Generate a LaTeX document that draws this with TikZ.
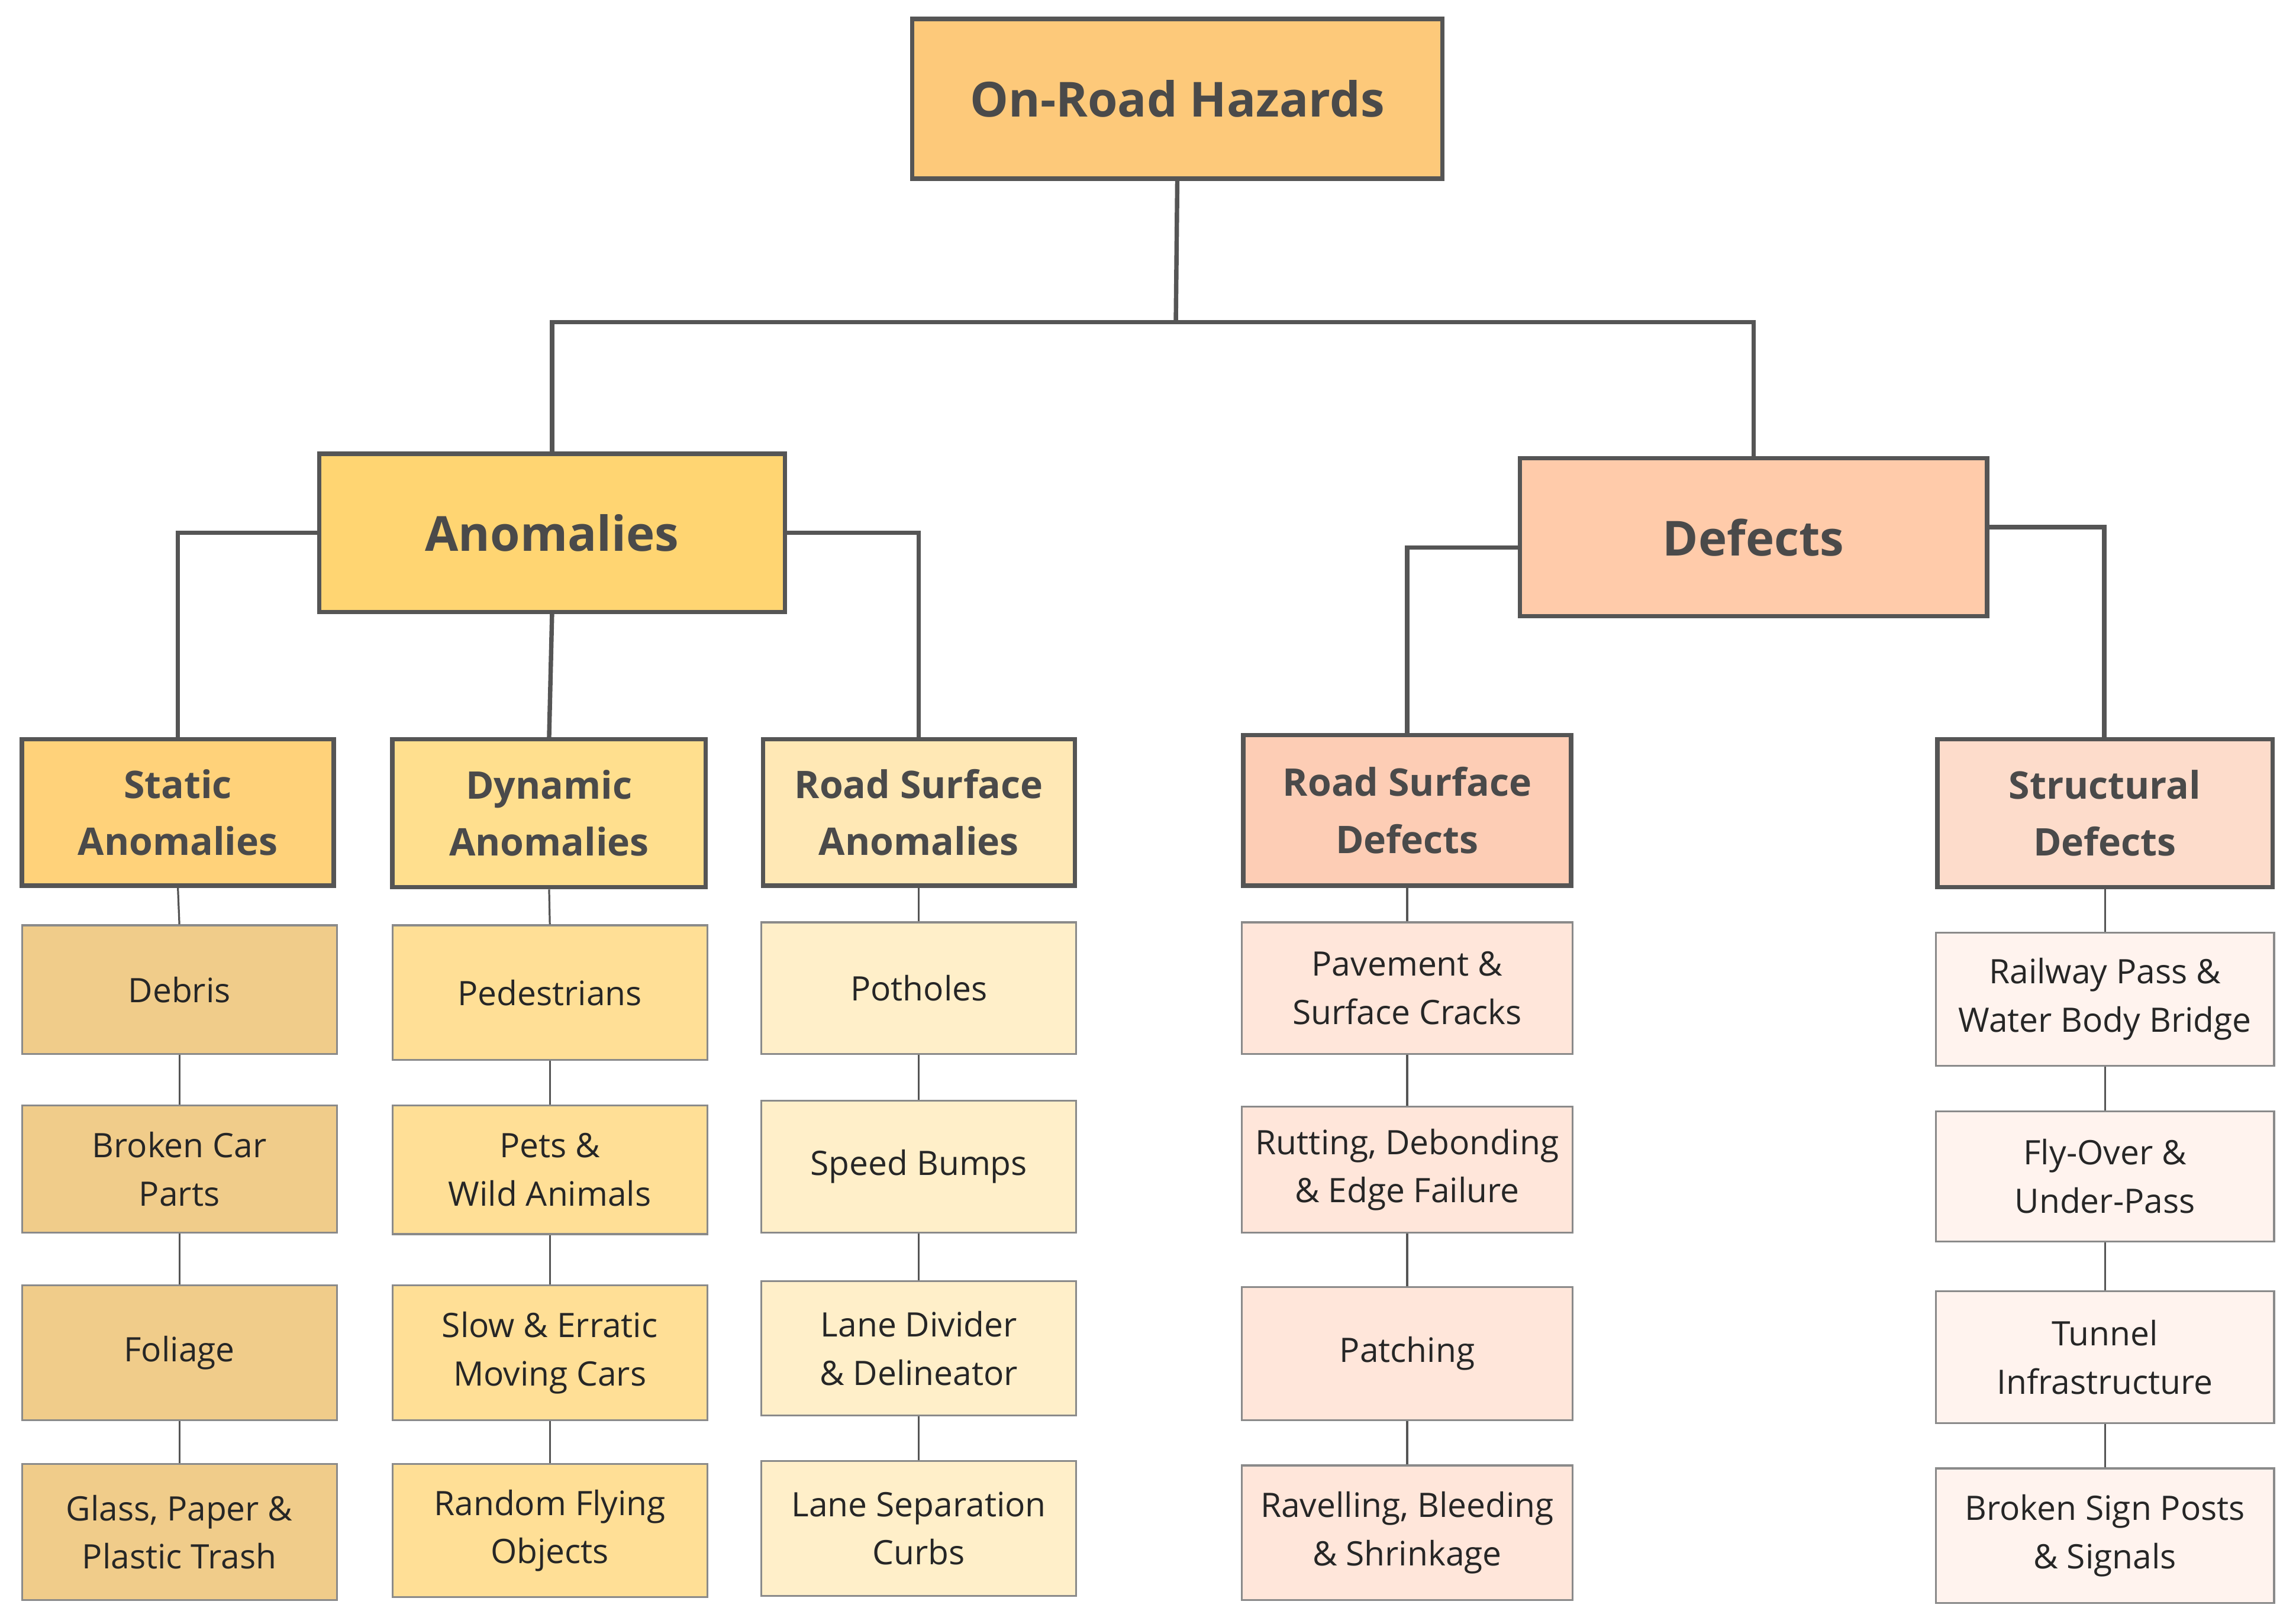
\documentclass[tikz,border=0pt]{standalone}
\usepackage{fontspec}
\setmainfont{Open Sans}
\definecolor{tx}{HTML}{4A4A4A}
\definecolor{bd}{HTML}{555555}
\definecolor{lb}{HTML}{8A8A8A}
\definecolor{cRoot}{HTML}{FDC97A}
\definecolor{cAn}{HTML}{FFD572}
\definecolor{cDe}{HTML}{FFCBAA}
\definecolor{cSt}{HTML}{FFD27A}
\definecolor{cDy}{HTML}{FFDF8E}
\definecolor{cRa}{HTML}{FFE8B5}
\definecolor{cRd}{HTML}{FDCDB5}
\definecolor{cSd}{HTML}{FDDCCB}
\definecolor{lA}{HTML}{F0CC8A}
\definecolor{lB}{HTML}{FFDF96}
\definecolor{lC}{HTML}{FFEFC9}
\definecolor{lD}{HTML}{FFE6DA}
\definecolor{lE}{HTML}{FFF3EE}
\tikzset{
  big/.style={draw=bd,line width=3pt,text=tx,font=\bfseries\fontsize{33}{38}\selectfont,inner sep=0pt},
  mid/.style={draw=bd,line width=3pt,text=tx,font=\bfseries\fontsize{26}{39}\selectfont,align=center,inner sep=0pt},
  leaf/.style={draw=lb,line width=1.3pt,text=black!85,font=\fontsize{23}{33}\selectfont,align=center,inner sep=0pt},
  thick line/.style={draw=bd,line width=3pt},
  thin line/.style={draw=bd,line width=1.3pt}
}
\newcommand{\bx}[7]{\node[#1,fill=#2,minimum width=#5pt-#4pt,minimum height=#7pt-#6pt] (#3) at ({(#4+#5)/2},{(#6+#7)/2}) }
\begin{document}
\begin{tikzpicture}[x=1pt,y=-1pt]
\useasboundingbox (0,0) rectangle (1568,1109);
\bx{big}{cRoot}{root}{623}{985}{13}{122} {On-Road Hazards};
\bx{big}{cAn}{an}{218}{536}{310}{418} {Anomalies};
\bx{big}{cDe}{de}{1038}{1357}{313}{421} {Defects};
\bx{mid}{cSt}{st}{15}{228}{505}{605} {Static\\ Anomalies};
\bx{mid}{cDy}{dy}{268}{482}{505}{606} {Dynamic\\ Anomalies};
\bx{mid}{cRa}{ra}{521}{734}{505}{605} {Road Surface\\ Anomalies};
\bx{mid}{cRd}{rd}{849}{1073}{502}{605} {Road Surface\\ Defects};
\bx{mid}{cSd}{sd}{1323}{1552}{505}{606} {Structural\\ Defects};
% leaves
\bx{leaf}{lA}{a1}{15}{230}{632}{720} {Debris};
\bx{leaf}{lA}{a2}{15}{230}{755}{842} {Broken Car\\ Parts};
\bx{leaf}{lA}{a3}{15}{230}{878}{970} {Foliage};
\bx{leaf}{lA}{a4}{15}{230}{1000}{1093} {Glass, Paper \&\\ Plastic Trash};
\bx{leaf}{lB}{b1}{268}{483}{632}{724} {Pedestrians};
\bx{leaf}{lB}{b2}{268}{483}{755}{843} {Pets \&\\ Wild Animals};
\bx{leaf}{lB}{b3}{268}{483}{878}{970} {Slow \& Erratic\\ Moving Cars};
\bx{leaf}{lB}{b4}{268}{483}{1000}{1091} {Random Flying\\ Objects};
\bx{leaf}{lC}{c1}{520}{735}{630}{720} {Potholes};
\bx{leaf}{lC}{c2}{520}{735}{752}{842} {Speed Bumps};
\bx{leaf}{lC}{c3}{520}{735}{875}{967} {Lane Divider\\ \& Delineator};
\bx{leaf}{lC}{c4}{520}{735}{998}{1090} {Lane Separation\\ Curbs};
\bx{leaf}{lD}{d1}{848}{1074}{630}{720} {Pavement \&\\ Surface Cracks};
\bx{leaf}{lD}{d2}{848}{1074}{756}{842} {Rutting, Debonding\\ \& Edge Failure};
\bx{leaf}{lD}{d3}{848}{1074}{879}{970} {Patching};
\bx{leaf}{lD}{d4}{848}{1074}{1001}{1093} {Ravelling, Bleeding\\ \& Shrinkage};
\bx{leaf}{lE}{e1}{1322}{1553}{637}{728} {Railway Pass \&\\ Water Body Bridge};
\bx{leaf}{lE}{e2}{1322}{1553}{759}{848} {Fly-Over \&\\ Under-Pass};
\bx{leaf}{lE}{e3}{1322}{1553}{882}{972} {Tunnel\\ Infrastructure};
\bx{leaf}{lE}{e4}{1322}{1553}{1003}{1095} {Broken Sign Posts\\ \& Signals};
% thick connectors
\coordinate (j) at (803,220);
\draw[thick line] (root.south) -- (j);
\draw[thick line] (an.north) |- (j) -| (de.north);
\draw[thick line] (an.west) -| (st.north);
\draw[thick line] (an.east) -| (ra.north);
\draw[thick line] (an.south) -- (dy.north);
\draw[thick line] ([yshift=-7pt]de.west) -| (rd.north);
\draw[thick line] ([yshift=7pt]de.east) -| ([xshift=-0.5pt]sd.north);
% thin connectors
\foreach \p in {a,b,c,d,e}{
  \draw[thin line] (\p1.south) -- (\p2.north);
  \draw[thin line] (\p2.south) -- (\p3.north);
  \draw[thin line] (\p3.south) -- (\p4.north);
}
\draw[thin line] (st.south) -- (a1.north);
\draw[thin line] (dy.south) -- (b1.north);
\draw[thin line] (ra.south) -- (c1.north);
\draw[thin line] (rd.south) -- (d1.north);
\draw[thin line] (sd.south) -- (e1.north);
\end{tikzpicture}
\end{document}
